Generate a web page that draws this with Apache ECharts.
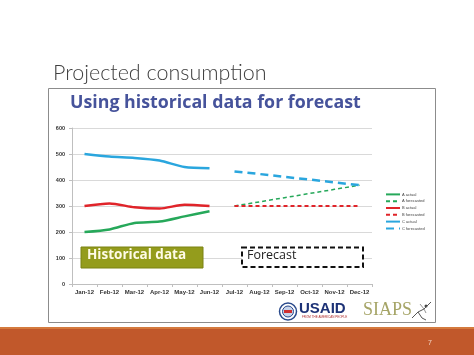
<!DOCTYPE html>
<html>
<head>
<meta charset="utf-8">
<script src="https://cdn.jsdelivr.net/npm/echarts@6/dist/echarts.min.js"></script>
<style>html,body{margin:0;padding:0;background:#fff}#c{width:474px;height:355px}</style>
</head>
<body>
<div id="c"></div>
<script>
var categories = ['Jan-12','Feb-12','Mar-12','Apr-12','May-12','Jun-12','Jul-12','Aug-12','Sep-12','Oct-12','Nov-12','Dec-12'];
var aActual = [200, 210, 235, 240, 260, 280];
var aForecast = [300, 316, 332, 348, 364, 380];
var bActual = [300, 310, 295, 290, 305, 300];
var bForecast = [300, 300, 300, 300, 300, 300];
var cActual = [500, 490, 485, 475, 450, 445];
var cForecast = [433, 423, 412, 402, 391, 380];
var yTicks = [0, 100, 200, 300, 400, 500, 600];

var pad = [null, null, null, null, null, null];
function hist(a){ return a.concat(pad); }
function fut(a){ return pad.concat(a); }

var chart = echarts.init(document.getElementById('c'), null, {renderer:'canvas'});
var option = {
  backgroundColor: '#ffffff',
  animation: false,
  grid: {left: 72, right: 102, top: 128, bottom: 71, containLabel: false},
  legend: {
    orient: 'vertical', left: 380, top: 187,
    itemWidth: 14, itemHeight: 6, itemGap: 2,
    itemStyle: {opacity: 0},
    textStyle: {fontSize: 4, color: '#444', padding: [0,0,0,-3], fontFamily: 'Liberation Sans'},
    data: ['A actual','A forecasted','B actual','B forecasted','C actual','C forecasted']
  },
  xAxis: {
    type: 'category', data: categories, boundaryGap: true,
    axisLine: {lineStyle: {color: '#bfbfbf', width: 1}},
    axisTick: {show: true, length: 3, lineStyle: {color: '#bfbfbf'}},
    axisLabel: {fontSize: 6, fontWeight: 'bold', color: '#333', margin: 5, fontFamily: 'Liberation Sans', interval: 0}
  },
  yAxis: {
    type: 'value', min: yTicks[0], max: yTicks[yTicks.length-1], interval: 100,
    axisLine: {show: true, lineStyle: {color: '#bfbfbf'}},
    axisTick: {show: true, length: 3, lineStyle: {color: '#bfbfbf'}},
    axisLabel: {fontSize: 5.5, fontWeight: 'bold', color: '#333', margin: 7, fontFamily: 'Liberation Sans'},
    splitLine: {lineStyle: {color: '#d9d9d9', width: 1}}
  },
  series: [
    {name: 'A actual', type: 'line', data: hist(aActual), symbol: 'none', smooth: 0.25,
     lineStyle: {color: '#26a85a', width: 2.5}, itemStyle: {color: '#26a85a'}},
    {name: 'A forecasted', type: 'line', data: fut(aForecast), symbol: 'none',
     lineStyle: {color: '#26a85a', width: 1.5, type: [4,3]}, itemStyle: {color: '#26a85a'}},
    {name: 'B actual', type: 'line', data: hist(bActual), symbol: 'none', smooth: 0.25,
     lineStyle: {color: '#e0242a', width: 2.5}, itemStyle: {color: '#e0242a'}},
    {name: 'B forecasted', type: 'line', data: fut(bForecast), symbol: 'none',
     lineStyle: {color: '#e0242a', width: 2, type: [4,3]}, itemStyle: {color: '#e0242a'}},
    {name: 'C actual', type: 'line', data: hist(cActual), symbol: 'none', smooth: 0.25,
     lineStyle: {color: '#2aa6de', width: 2.5}, itemStyle: {color: '#2aa6de'}},
    {name: 'C forecasted', type: 'line', data: fut(cForecast), symbol: 'none',
     lineStyle: {color: '#2aa6de', width: 2.5, type: [8,5]}, itemStyle: {color: '#2aa6de'}}
  ],
  graphic: [
    {type: 'text', left: 53, top: 62, z: 10,
     style: {text: 'Projected consumption', fontSize: 21.5, fontWeight: 300, fontFamily: 'Lato', fill: '#404040'}},
    {type: 'rect', shape: {x: 48.5, y: 88.5, width: 387, height: 234}, z: -1, silent: true,
     style: {fill: 'none', stroke: '#8c8c8c', lineWidth: 1}},
    {type: 'text', left: 70, top: 94, z: 10,
     style: {text: 'Using historical data for forecast', fontSize: 17.8, fontWeight: 'bold', fontFamily: 'Open Sans', fill: '#46539b'}},
    {type: 'rect', shape: {x: 81, y: 247, width: 122, height: 21}, z: 10,
     style: {fill: '#949c1c', stroke: '#7a8212', lineWidth: 1}},
    {type: 'text', left: 87, top: 248, z: 11,
     style: {text: 'Historical data', fontSize: 13.5, fontWeight: 'bold', fontFamily: 'Open Sans', fill: '#fffbe6'}},
    {type: 'rect', shape: {x: 242, y: 247.5, width: 121, height: 19.5}, z: 10,
     style: {fill: '#ffffff', stroke: '#111', lineWidth: 2, lineDash: [5,3]}},
    {type: 'text', left: 247, top: 248.5, z: 11,
     style: {text: 'Forecast', fontSize: 12.5, fontFamily: 'Open Sans', fill: '#222'}},
    // USAID seal
    {type: 'circle', shape: {cx: 288, cy: 311.5, r: 8.5}, z: 10, style: {fill: '#ffffff', stroke: '#2a4a8c', lineWidth: 1.5}},
    {type: 'circle', shape: {cx: 288, cy: 311.5, r: 5.5}, z: 11, style: {fill: '#c8d4ea', stroke: '#2a4a8c', lineWidth: 1}},
    {type: 'rect', shape: {x: 284, y: 310, width: 8, height: 3}, z: 12, style: {fill: '#d03030'}},
    {type: 'text', left: 299, top: 301, z: 10,
     style: {text: 'USAID', fontSize: 15, fontWeight: 'bold', fontFamily: 'Liberation Sans', fill: '#1d3276'}},
    {type: 'text', left: 302, top: 316, z: 10,
     style: {text: 'FROM THE AMERICAN PEOPLE', fontSize: 3, fontFamily: 'Liberation Sans', fill: '#b03030'}},
    {type: 'text', left: 363, top: 301, z: 10,
     style: {text: 'SIAPS', fontSize: 18, fontFamily: 'Liberation Serif', fill: '#a5a466'}},
    {type: 'circle', shape: {cx: 426, cy: 306, r: 1.5}, z: 10, style: {fill: '#444'}},
    {type: 'polyline', shape: {points: [[412,318],[418,312],[424,309],[431,302]]}, z: 10, style: {stroke: '#555', lineWidth: 1, fill: 'none'}},
    {type: 'polyline', shape: {points: [[418,312],[422,318],[426,320]]}, z: 10, style: {stroke: '#555', lineWidth: 1, fill: 'none'}},
    {type: 'polyline', shape: {points: [[420,304],[424,309],[426,313]]}, z: 10, style: {stroke: '#777', lineWidth: 0.8, fill: 'none'}},
    // footer
    {type: 'rect', shape: {x: 0, y: 327, width: 474, height: 28}, z: 10, style: {fill: '#c1582b'}},
    {type: 'rect', shape: {x: 0, y: 327, width: 474, height: 2}, z: 11, style: {fill: '#d47a3e'}},
    {type: 'text', left: 428, top: 340, z: 12,
     style: {text: '7', fontSize: 7, fontFamily: 'Liberation Sans', fill: '#f3d6c6'}}
  ]
};
chart.setOption(option);
</script>
</body>
</html>
